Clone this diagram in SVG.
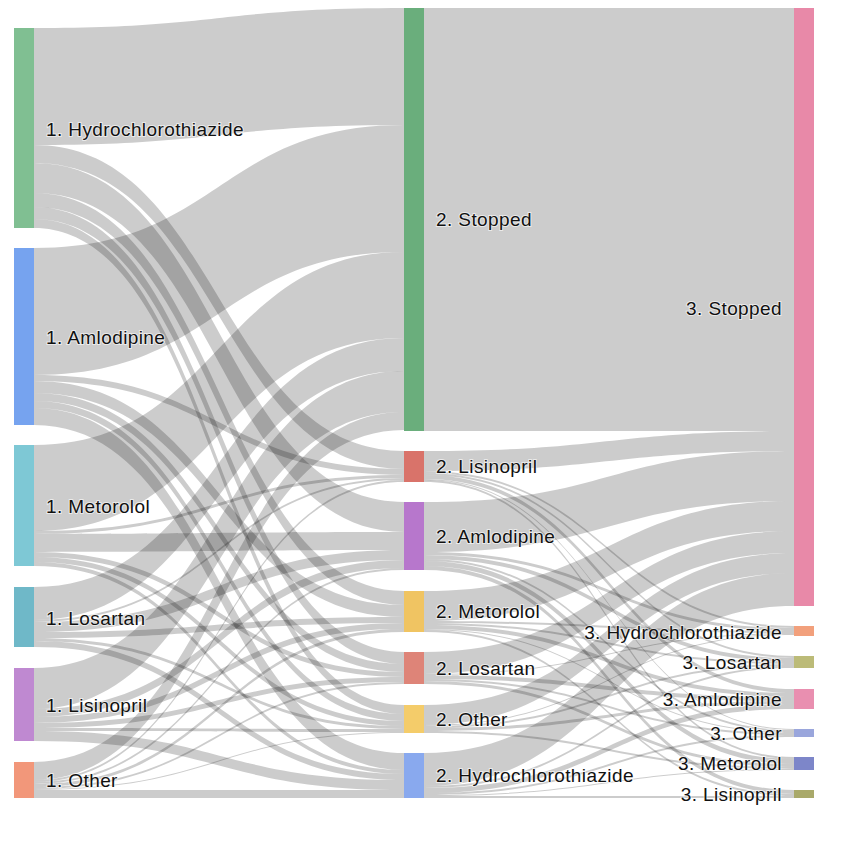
<svg xmlns="http://www.w3.org/2000/svg" width="842" height="848" viewBox="0 0 842 848">
<style>
.l path{fill:rgba(0,0,0,0.2);stroke:none}
text{font-family:"Liberation Sans",Arial,sans-serif;font-size:19px;letter-spacing:0.4px;fill:#111;dominant-baseline:central;paint-order:stroke;stroke:#fff;stroke-width:2px;stroke-opacity:0.6}
.e{text-anchor:end}
</style>
<rect width="842" height="848" fill="#fff"/>
<g id="connectors" class="l">
<path d="M34 28C219 28 219 8 404 8V125C219 125 219 145 34 145Z"/>
<path d="M34 145C219 145 219 451 404 451V469C219 469 219 163 34 163Z"/>
<path d="M34 163C219 163 219 502 404 502V532C219 532 219 193 34 193Z"/>
<path d="M34 193C219 193 219 591 404 591V605C219 605 219 207 34 207Z"/>
<path d="M34 207C219 207 219 652 404 652V664C219 664 219 219 34 219Z"/>
<path d="M34 219C219 219 219 705 404 705V714C219 714 219 228 34 228Z"/>
<path d="M34 248C219 248 219 125 404 125V252C219 252 219 375 34 375Z"/>
<path d="M34 375C219 375 219 469 404 469V475C219 475 219 381 34 381Z"/>
<path d="M34 381C219 381 219 605 404 605V617C219 617 219 393 34 393Z"/>
<path d="M34 393C219 393 219 664 404 664V672C219 672 219 401 34 401Z"/>
<path d="M34 401C219 401 219 714 404 714V721C219 721 219 408 34 408Z"/>
<path d="M34 408C219 408 219 753 404 753V770C219 770 219 425 34 425Z"/>
<path d="M34 445C219 445 219 252 404 252V338C219 338 219 531 34 531Z"/>
<path d="M34 531C219 531 219 475 404 475V478C219 478 219 534 34 534Z"/>
<path d="M34 534C219 534 219 532 404 532V550C219 550 219 552 34 552Z"/>
<path d="M34 552C219 552 219 672 404 672V677C219 677 219 557 34 557Z"/>
<path d="M34 557C219 557 219 721 404 721V726C219 726 219 562 34 562Z"/>
<path d="M34 562C219 562 219 770 404 770V774C219 774 219 566 34 566Z"/>
<path d="M34 587C219 587 219 338 404 338V371C219 371 219 620 34 620Z"/>
<path d="M34 620C219 620 219 478 404 478V480C219 480 219 622 34 622Z"/>
<path d="M34 622C219 622 219 550 404 550V560C219 560 219 632 34 632Z"/>
<path d="M34 632C219 632 219 617 404 617V623C219 623 219 638 34 638Z"/>
<path d="M34 638C219 638 219 726 404 726V729C219 729 219 641 34 641Z"/>
<path d="M34 641C219 641 219 774 404 774V780C219 780 219 647 34 647Z"/>
<path d="M34 668C219 668 219 371 404 371V412C219 412 219 709 34 709Z"/>
<path d="M34 709C219 709 219 560 404 560V568C219 568 219 717 34 717Z"/>
<path d="M34 717C219 717 219 623 404 623V629C219 629 219 723 34 723Z"/>
<path d="M34 723C219 723 219 677 404 677V682C219 682 219 728 34 728Z"/>
<path d="M34 728C219 728 219 729 404 729V732C219 732 219 731 34 731Z"/>
<path d="M34 731C219 731 219 780 404 780V790C219 790 219 741 34 741Z"/>
<path d="M34 762C219 762 219 412 404 412V430C219 430 219 780 34 780Z"/>
<path d="M34 780C219 780 219 480 404 480V482C219 482 219 782 34 782Z"/>
<path d="M34 782C219 782 219 568 404 568V570C219 570 219 784 34 784Z"/>
<path d="M34 784C219 784 219 629 404 629V632C219 632 219 787 34 787Z"/>
<path d="M34 787C219 787 219 682 404 682V684C219 684 219 789 34 789Z"/>
<path d="M34 789C219 789 219 732 404 732V733C219 733 219 790 34 790Z"/>
<path d="M34 790C219 790 219 790 404 790V798C219 798 219 798 34 798Z"/>
<path d="M424 8C609 8 609 8 794 8V431C609 431 609 431 424 431Z"/>
<path d="M424 451C609 451 609 431 794 431V451C609 451 609 471 424 471Z"/>
<path d="M424 471C609 471 609 626 794 626V628C609 628 609 473 424 473Z"/>
<path d="M424 473C609 473 609 656 794 656V658C609 658 609 475 424 475Z"/>
<path d="M424 475C609 475 609 689 794 689V693C609 693 609 479 424 479Z"/>
<path d="M424 479C609 479 609 729 794 729V730C609 730 609 480 424 480Z"/>
<path d="M424 480C609 480 609 757 794 757V759C609 759 609 482 424 482Z"/>
<path d="M424 502C609 502 609 451 794 451V501C609 501 609 552 424 552Z"/>
<path d="M424 552C609 552 609 628 794 628V631C609 631 609 555 424 555Z"/>
<path d="M424 555C609 555 609 658 794 658V662C609 662 609 559 424 559Z"/>
<path d="M424 559C609 559 609 730 794 730V732C609 732 609 561 424 561Z"/>
<path d="M424 561C609 561 609 759 794 759V764C609 764 609 566 424 566Z"/>
<path d="M424 566C609 566 609 790 794 790V794C609 794 609 570 424 570Z"/>
<path d="M424 591C609 591 609 501 794 501V531C609 531 609 621 424 621Z"/>
<path d="M424 621C609 621 609 631 794 631V633C609 633 609 623 424 623Z"/>
<path d="M424 623C609 623 609 662 794 662V664C609 664 609 625 424 625Z"/>
<path d="M424 625C609 625 609 693 794 693V697C609 697 609 629 424 629Z"/>
<path d="M424 629C609 629 609 732 794 732V733C609 733 609 630 424 630Z"/>
<path d="M424 630C609 630 609 794 794 794V796C609 796 609 632 424 632Z"/>
<path d="M424 652C609 652 609 531 794 531V553C609 553 609 674 424 674Z"/>
<path d="M424 674C609 674 609 633 794 633V634C609 634 609 675 424 675Z"/>
<path d="M424 675C609 675 609 697 794 697V701C609 701 609 679 424 679Z"/>
<path d="M424 679C609 679 609 733 794 733V735C609 735 609 681 424 681Z"/>
<path d="M424 681C609 681 609 764 794 764V767C609 767 609 684 424 684Z"/>
<path d="M424 705C609 705 609 553 794 553V573C609 573 609 725 424 725Z"/>
<path d="M424 725C609 725 609 634 794 634V635C609 635 609 726 424 726Z"/>
<path d="M424 726C609 726 609 664 794 664V666C609 666 609 728 424 728Z"/>
<path d="M424 728C609 728 609 701 794 701V704C609 704 609 731 424 731Z"/>
<path d="M424 731C609 731 609 767 794 767V769C609 769 609 733 424 733Z"/>
<path d="M424 753C609 753 609 573 794 573V606C609 606 609 786 424 786Z"/>
<path d="M424 786C609 786 609 666 794 666V668C609 668 609 788 424 788Z"/>
<path d="M424 788C609 788 609 704 794 704V709C609 709 609 793 424 793Z"/>
<path d="M424 793C609 793 609 735 794 735V737C609 737 609 795 424 795Z"/>
<path d="M424 795C609 795 609 769 794 769V770C609 770 609 796 424 796Z"/>
<path d="M424 796C609 796 609 796 794 796V798C609 798 609 798 424 798Z"/>
</g>
<g id="n1-hydro"><rect x="14" y="28" width="20" height="200" fill="#80bf92"/><text x="46" y="129">1. Hydrochlorothiazide</text></g>
<g id="n1-amlo"><rect x="14" y="248" width="20" height="177" fill="#76a3ef"/><text x="46" y="337">1. Amlodipine</text></g>
<g id="n1-meto"><rect x="14" y="445" width="20" height="121" fill="#7ec8d5"/><text x="46" y="506">1. Metorolol</text></g>
<g id="n1-losa"><rect x="14" y="587" width="20" height="60" fill="#6fb8c8"/><text x="46" y="618">1. Losartan</text></g>
<g id="n1-lisi"><rect x="14" y="668" width="20" height="73" fill="#bf89d1"/><text x="46" y="705">1. Lisinopril</text></g>
<g id="n1-other"><rect x="14" y="762" width="20" height="36" fill="#f2977a"/><text x="46" y="780">1. Other</text></g>
<g id="n2-stop"><rect x="404" y="8" width="20" height="423" fill="#6aae7c"/><text x="436" y="219">2. Stopped</text></g>
<g id="n2-lisi"><rect x="404" y="451" width="20" height="31" fill="#d9736a"/><text x="436" y="466">2. Lisinopril</text></g>
<g id="n2-amlo"><rect x="404" y="502" width="20" height="68" fill="#b777cc"/><text x="436" y="536">2. Amlodipine</text></g>
<g id="n2-meto"><rect x="404" y="591" width="20" height="41" fill="#f0c462"/><text x="436" y="611">2. Metorolol</text></g>
<g id="n2-losa"><rect x="404" y="652" width="20" height="32" fill="#de8478"/><text x="436" y="668">2. Losartan</text></g>
<g id="n2-other"><rect x="404" y="705" width="20" height="28" fill="#f4cc6a"/><text x="436" y="719">2. Other</text></g>
<g id="n2-hydro"><rect x="404" y="753" width="20" height="45" fill="#89a9ee"/><text x="436" y="775">2. Hydrochlorothiazide</text></g>
<g id="n3-stop"><rect x="794" y="8" width="20" height="598" fill="#e889a8"/><text class="e" x="782" y="308">3. Stopped</text></g>
<g id="n3-hydro"><rect x="794" y="626" width="20" height="10" fill="#f2a07c"/><text class="e" x="782" y="632">3. Hydrochlorothiazide</text></g>
<g id="n3-losa"><rect x="794" y="656" width="20" height="12" fill="#bcbb78"/><text class="e" x="782" y="662">3. Losartan</text></g>
<g id="n3-amlo"><rect x="794" y="689" width="20" height="20" fill="#e98fb0"/><text class="e" x="782" y="699">3. Amlodipine</text></g>
<g id="n3-other"><rect x="794" y="729" width="20" height="8" fill="#9aa6dc"/><text class="e" x="782" y="733">3. Other</text></g>
<g id="n3-meto"><rect x="794" y="757" width="20" height="13" fill="#7d86c9"/><text class="e" x="782" y="763">3. Metorolol</text></g>
<g id="n3-lisi"><rect x="794" y="790" width="20" height="8" fill="#a9a96a"/><text class="e" x="782" y="794">3. Lisinopril</text></g>
</svg>
